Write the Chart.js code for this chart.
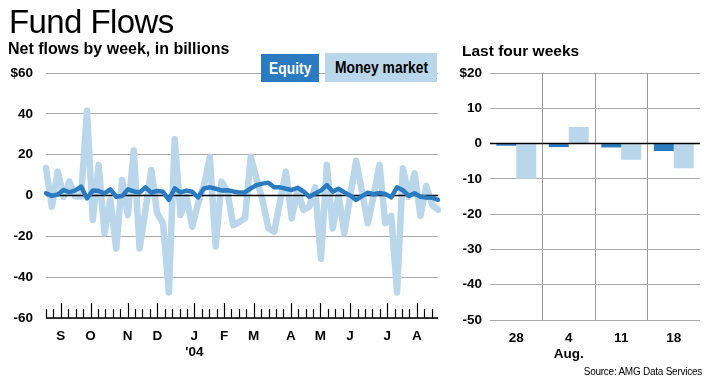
<!DOCTYPE html>
<html><head><meta charset="utf-8">
<script src="https://cdn.jsdelivr.net/npm/chart.js@4"></script>
<style>
html,body{margin:0;padding:0;background:#fff;}
#wrap{position:relative;width:708px;height:380px;overflow:hidden;font-family:'Liberation Sans',Arial,sans-serif;}
canvas{position:absolute;top:0;}
#left{left:0;}
#right{left:450px;}
.t{position:absolute;white-space:nowrap;line-height:1;color:#000;z-index:2;}
#title{left:9px;top:4.7px;font-size:33px;font-weight:400;letter-spacing:-0.6px;}
#sub{left:8px;top:41.3px;font-size:16px;font-weight:700;}
#sub2{left:462px;top:43px;font-size:15.5px;font-weight:700;}
#src{right:6px;top:367px;font-size:10px;letter-spacing:-0.25px;}
.leg{position:absolute;z-index:3;text-align:center;font-weight:700;font-size:16.5px;white-space:nowrap;}
.leg span{display:inline-block;transform:scaleX(0.84);}
#legEq{left:261px;top:54px;width:58px;height:28px;line-height:28px;background:#2b7bc0;color:#fff;}
#legMm{left:325px;top:53px;width:112px;height:29px;line-height:29px;background:#bad6eb;color:#000;}
</style></head>
<body><div id="wrap">
<canvas id="left" width="445" height="380"></canvas>
<canvas id="right" width="258" height="380"></canvas>
<div class="t" id="title">Fund Flows</div>
<div class="t" id="sub">Net flows by week, in billions</div>
<div class="t" id="sub2">Last four weeks</div>
<div class="t" id="src">Source: AMG Data Services</div>
<div class="leg" id="legEq"><span>Equity</span></div>
<div class="leg" id="legMm"><span>Money market</span></div>
</div>
<script>
// ---- data ----
const equity = [1.1, -0.2, 0.5, 2.7, 1.5, 2.5, 4.3, -1.4, 2.4, 2.2,
  1.0, 3.0, -0.6, -0.3, 3.0, 2.0, 1.5, 4.0, 1.4, 2.2,
  1.8, -2.2, 3.5, 1.5, 2.4, 1.8, -0.9, 3.5, 4.0, 3.3,
  2.5, 2.6, 2.0, 1.5, 1.5, 3.5, 5.1, 5.8, 6.3, 4.0,
  4.0, 3.3, 2.7, 3.8, 2.0, -0.6, 1.0, 2.4, 5.1, 1.9,
  3.3, 1.5, 0.0, -2.2, -0.3, 1.4, 0.6, 1.2, 0.8, -0.9,
  4.0, 2.6, -0.2, 1.1, -0.6, -1.0, -1.1, -2.1];
const moneyMarket = [13.5, -5.5, 11.7, -0.6, 6.8, -0.5, -0.5, 41.5, -12, 15,
  -18.5, -2, -26, 7.6, -9.6, 22, -26, -7, 12.5, -8.7,
  -13.6, -47.5, 27.5, -9.6, -0.6, -15.3, -3.8, 5, 19, -25,
  6.8, 1.9, -14.5, -13, -11.2, 19, 8, -2.2, -16, -17.7,
  -3, 11.7, -11.2, 2.7, -7.1, -5.5, 4, -31, 15, -16.1,
  0.2, -18.5, 0, 17, 2, -13.6, 0, 15, -13.6, -10,
  -47.5, 13.3, -0.6, 10.9, -10, 4.7, -4.6, -7];
const weeks = equity.map((_, i) => 'Week ' + (i + 1));
const weeklyTickCount = 53;
const monthTickIdx = [2, 6, 11, 15, 20, 24, 28, 33, 37, 41, 46, 50];
const monthLabels = ['S', 'O', 'N', 'D', ['J', "'04"], 'F', 'M', 'A', 'M', 'J', 'J', 'A'];
const lastFourWeeks = ['28', ['4', 'Aug.'], '11', '18'];
const lastFourEquity = [-0.6, -1.0, -1.1, -2.1];
const lastFourMoney = [-10.0, 4.7, -4.6, -7.0];

// ---- styles ----
const EQ = '#2b7bc0', MM = '#bad6eb', GRID = '#a9a9a9';
const SANS = "'Liberation Sans', Arial, sans-serif";
Chart.defaults.font.family = SANS;
Chart.defaults.color = '#000';
const axisFont = {family: SANS, size: 13.5, weight: 'bold'};

const zeroAfterMM = {
  id: 'zeroAfterMM',
  afterDatasetDraw(chart, args) {
    if (args.index !== 1) return;
    const {ctx, chartArea} = chart; const y = chart.scales.y.getPixelForValue(0);
    ctx.save(); ctx.strokeStyle = '#000'; ctx.lineWidth = 1.5;
    ctx.beginPath(); ctx.moveTo(chartArea.left, y); ctx.lineTo(chartArea.right, y); ctx.stroke(); ctx.restore();
  }
};
const weekTicks = {
  id: 'weekTicks',
  afterDraw(chart) {
    const {ctx, chartArea} = chart; const xs = chart.scales.xt; const y = chart.scales.y.getPixelForValue(-60);
    ctx.save(); ctx.strokeStyle = '#000';
    ctx.lineWidth = 1.5; ctx.beginPath(); ctx.moveTo(chartArea.left, y); ctx.lineTo(chartArea.right, y); ctx.stroke();
    ctx.lineWidth = 1.2;
    for (let i = 0; i < weeklyTickCount; i++) {
      const px = Math.round(xs.getPixelForValue(i)) + 0.5;
      const h = monthTickIdx.includes(i) ? 15 : 9;
      ctx.beginPath(); ctx.moveTo(px, y); ctx.lineTo(px, y - h); ctx.stroke();
    }
    ctx.restore();
  }
};

new Chart(document.getElementById('left'), {
  type: 'line',
  data: {labels: weeks, datasets: [
    {label: 'Equity', data: equity, borderColor: EQ, borderWidth: 4.5, pointRadius: 0, tension: 0, borderJoinStyle: 'round', borderCapStyle: 'round'},
    {label: 'Money market', data: moneyMarket, borderColor: MM, borderWidth: 6.5, pointRadius: 0, tension: 0, borderJoinStyle: 'round', borderCapStyle: 'round'}
  ]},
  options: {
    responsive: false, animation: false, devicePixelRatio: 1,
    layout: {padding: {top: 73, right: 7, left: 0, bottom: 0}},
    plugins: {legend: {display: false}, tooltip: {enabled: false}},
    scales: {
      x: {type: 'category', display: false, offset: false},
      xt: {type: 'linear', position: 'bottom', min: 0, max: 52.85,
        grid: {display: false, drawTicks: false}, border: {display: false},
        afterBuildTicks: s => { s.ticks = monthTickIdx.map(v => ({value: v})); },
        ticks: {callback: v => monthLabels[monthTickIdx.indexOf(v)], font: axisFont, color: '#000', padding: 10, maxRotation: 0, autoSkip: false},
        afterFit: s => { s.height = 62; }},
      y: {min: -60, max: 60,
        ticks: {stepSize: 20, callback: v => v === 60 ? '$60' : v, padding: 13, font: axisFont, color: '#000'},
        grid: {color: ctx => (ctx.tick && ctx.tick.value === 0) ? 'rgba(0,0,0,0)' : GRID, drawTicks: false, lineWidth: 1},
        border: {display: false},
        afterFit: s => { s.width = 46; }}
    }
  },
  plugins: [zeroAfterMM, weekTicks]
});

const zeroBars = {
  id: 'zeroBars',
  afterDatasetsDraw(chart) {
    const {ctx, chartArea} = chart; const y = chart.scales.y.getPixelForValue(0);
    ctx.save(); ctx.strokeStyle = '#000'; ctx.lineWidth = 1.5;
    ctx.beginPath(); ctx.moveTo(chartArea.left, y); ctx.lineTo(chartArea.right, y); ctx.stroke(); ctx.restore();
  }
};
new Chart(document.getElementById('right'), {
  type: 'bar',
  data: {labels: lastFourWeeks, datasets: [
    {label: 'Equity', data: lastFourEquity, backgroundColor: EQ, categoryPercentage: 0.76, barPercentage: 1},
    {label: 'Money market', data: lastFourMoney, backgroundColor: MM, categoryPercentage: 0.76, barPercentage: 1}
  ]},
  options: {
    responsive: false, animation: false, devicePixelRatio: 1,
    layout: {padding: {top: 73, right: 8, left: 0, bottom: 0}},
    plugins: {legend: {display: false}, tooltip: {enabled: false}},
    scales: {
      x: {grid: {offset: true, color: ctx => (ctx.index > 0 && ctx.index < 4) ? '#9a9a9a' : 'rgba(0,0,0,0)', drawTicks: false},
        border: {display: false},
        ticks: {font: axisFont, color: '#000', padding: 10, maxRotation: 0},
        afterFit: s => { s.height = 60; }},
      y: {min: -50, max: 20,
        ticks: {stepSize: 10, callback: v => v === 20 ? '$20' : v, padding: 8, font: axisFont, color: '#000'},
        grid: {color: GRID, drawTicks: false},
        border: {display: false},
        afterFit: s => { s.width = 40; }}
    }
  },
  plugins: [zeroBars]
});
</script>
</body></html>
